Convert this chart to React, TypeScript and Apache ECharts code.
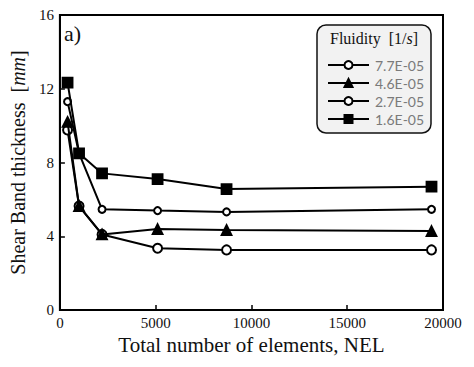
import React, { useEffect, useRef } from "react";
import * as echarts from "echarts";

const nel = [400, 1000, 2200, 5100, 8700, 19400];
const seriesNames = ["7.7E-05", "4.6E-05", "2.7E-05", "1.6E-05"];
const s77 = [9.76, 5.64, 4.1, 3.35, 3.26, 3.26];
const s46 = [10.2, 5.64, 4.1, 4.39, 4.34, 4.28];
const s27 = [11.3, 8.5, 5.46, 5.39, 5.32, 5.46];
const s16 = [12.33, 8.5, 7.41, 7.1, 6.56, 6.69];
const xTicks = [0, 5000, 10000, 15000, 20000];
const yTicks = [0, 4, 8, 12, 16];

const serif = "'Liberation Serif', 'DejaVu Serif', serif";

export default function App() {
  const ref = useRef<HTMLDivElement>(null);
  useEffect(() => {
    if (!ref.current) return;
    const chart = echarts.init(ref.current, undefined, { renderer: "svg" });
    const mk = (name: string, vals: number[], symbol: string, size: number, z: number) => ({
      name,
      type: "line",
      data: nel.map((x, i) => [x, vals[i]]),
      symbol,
      symbolSize: size,
      showSymbol: true,
      z,
      lineStyle: { color: "#000", width: 2 },
      itemStyle: { color: "#000", borderColor: "#000", borderWidth: 1.8 },
      emphasis: { disabled: true },
    });
    chart.setOption({
      animation: false,
      backgroundColor: "#fff",
      grid: {
        left: 56,
        right: 31,
        top: 15,
        bottom: 57,
        show: true,
        borderColor: "#000",
        borderWidth: 2,
        backgroundColor: "transparent",
      },
      xAxis: {
        type: "value",
        min: xTicks[0],
        max: xTicks[xTicks.length - 1],
        interval: 5000,
        name: "Total number of elements, NEL",
        nameLocation: "middle",
        nameGap: 24,
        nameTextStyle: { fontFamily: serif, fontSize: 21, color: "#111" },
        axisLine: { show: true, lineStyle: { color: "#000", width: 2 } },
        axisTick: { show: true, inside: true, length: 5, lineStyle: { color: "#000", width: 1.5 } },
        axisLabel: { fontFamily: serif, fontSize: 15, color: "#111", margin: 5, formatter: (v: number) => String(v) },
        splitLine: { show: false },
      },
      yAxis: {
        type: "value",
        min: yTicks[0],
        max: yTicks[yTicks.length - 1],
        interval: 4,
        name: "Shear Band thickness  [{i|mm}]",
        nameLocation: "middle",
        nameGap: 28,
        nameTextStyle: {
          fontFamily: serif,
          fontSize: 20,
          color: "#111",
          rich: { i: { fontFamily: serif, fontSize: 20, fontStyle: "italic", color: "#111" } },
        },
        axisLine: { show: true, lineStyle: { color: "#000", width: 2 } },
        axisTick: { show: true, inside: true, length: 5, lineStyle: { color: "#000", width: 1.5 } },
        axisLabel: { fontFamily: serif, fontSize: 15, color: "#111", margin: 6 },
        splitLine: { show: false },
      },
      legend: {
        orient: "vertical",
        left: 327,
        top: 57,
        data: seriesNames,
        itemWidth: 41,
        itemHeight: 10,
        itemGap: 2,
        padding: 0,
        textStyle: { fontFamily: "Lato, 'Open Sans', sans-serif", fontSize: 14, lineHeight: 16, color: "#7a7a7a", padding: [0, 0, 0, 1] },
        selectedMode: false,
      },
      graphic: [
        {
          type: "rect",
          shape: { x: 317, y: 25, width: 114, height: 108, r: 9 },
          style: { fill: "#f2f2f2", stroke: "#111", lineWidth: 1.5 },
          z: 0,
        },
        {
          type: "text",
          x: 374,
          y: 38,
          style: {
            text: "Fluidity  [1/{i|s}]",
            fontFamily: serif,
            fontSize: 16,
            fill: "#111",
            align: "center",
            verticalAlign: "middle",
            rich: { i: { fontFamily: serif, fontSize: 16, fontStyle: "italic", fill: "#111" } },
          },
          z: 5,
        },
        {
          type: "text",
          x: 64,
          y: 33,
          style: { text: "a)", fontFamily: serif, fontSize: 22, fill: "#111", verticalAlign: "middle" },
          z: 5,
        },
      ],
      series: [
        mk(seriesNames[0], s77, "emptyCircle", 9, 2),
        mk(seriesNames[1], s46, "triangle", 10, 3),
        mk(seriesNames[2], s27, "emptyCircle", 7, 4),
        mk(seriesNames[3], s16, "rect", 10, 5),
      ],
    });
    return () => chart.dispose();
  }, []);
  return <div ref={ref} style={{ position: "absolute", left: 0, top: 0, width: 474, height: 367 }} />;
}
